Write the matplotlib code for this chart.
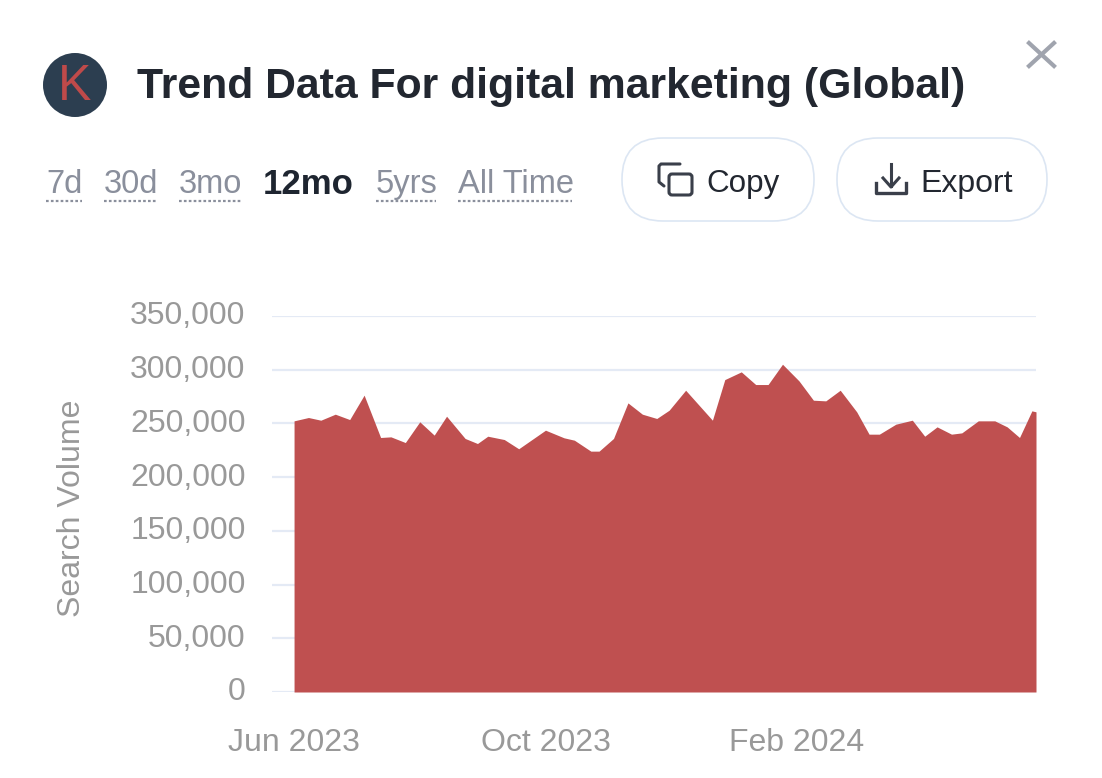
import matplotlib
matplotlib.use("Agg")
import matplotlib.pyplot as plt
from matplotlib.patches import Circle, FancyBboxPatch
from matplotlib.transforms import ScaledTranslation

plt.rcParams['font.family'] = ['Liberation Sans', 'DejaVu Sans']

days = [0,7,13,20,27,34,42,47,54,61,68,74,83,89,94,102,109,122,131,136,144,148,155,162,169,176,
        182,190,203,209,217,224,230,237,245,252,258,265,273,279,284,292,300,306,312,319,324,332,340,346,352,358,360]
volume = [252400,255500,253000,258600,253600,276300,236900,237500,232200,251500,239100,256700,236000,231300,
          238100,235000,226400,243700,236600,234400,224200,224200,236000,269100,258600,254600,
          262300,280900,253000,290800,298000,286200,286200,305100,289600,271600,271000,280900,260800,240000,
          240000,249300,253000,238100,246800,240000,241200,252400,252400,246800,236900,261700,260800]
y_ticks = [0,50000,100000,150000,200000,250000,300000,350000]
x_tick_days = [0,122,244]
x_tick_labels = ['Jun 2023','Oct 2023','Feb 2024']
ranges = ['7d','30d','3mo','12mo','5yrs','All Time']
title = 'Trend Data For digital marketing (Global)'

W,H = 1102,778
fig = plt.figure(figsize=(W/100,H/100),dpi=100,facecolor='white')

# chart axes: pixel box x 272..1036, y 316..692
ax = fig.add_axes([272/W,1-692/H,(1036-272)/W,(692-316)/H])
ax.set_xlim(-10.7,360)
ax.set_ylim(0,350000)
ax.fill_between(days,volume,0,color='#BF5050',lw=0,zorder=3)
ax.set_yticks(y_ticks)
ax.set_yticklabels([f'{v:,}' for v in y_ticks],fontsize=23,color='#999999')
ax.set_xticks(x_tick_days)
ax.set_xticklabels(x_tick_labels,fontsize=23,color='#999999')
ax.tick_params(axis='both',length=0)
ax.tick_params(axis='y',pad=19)
ax.tick_params(axis='x',pad=26)
ax.grid(axis='y',color='#E4EAF5',lw=1.6,zorder=1)
ax.set_axisbelow(True)
for s in ax.spines.values():
    s.set_visible(False)
ax.patch.set_alpha(0)
shift = ScaledTranslation(0,3/100,fig.dpi_scale_trans)
for lab in ax.get_yticklabels():
    lab.set_transform(lab.get_transform()+shift)
fig.text(72/W,1-508/H,'Search Volume',rotation=90,fontsize=23,color='#999999',ha='center',va='center')

# interface elements, in pixel coordinates
ui = fig.add_axes([0,0,1,1],zorder=-1)
ui.set_xlim(0,W); ui.set_ylim(H,0); ui.axis('off')
ui.add_patch(Circle((75,85),32,color='#2C3E50',lw=0))
ui.text(75,87,'K',fontsize=36,color='#BF4A4A',ha='center',va='center',fontweight='normal')
ui.text(137,87,title,fontsize=30.8,fontweight='bold',color='#222730',ha='left',va='center')

xs = [46,104,179,263,376,458]
xe = [82,157,241,353,436,572]
for t,a,b in zip(ranges,xs,xe):
    active = t=='12mo'
    ui.text(a,184,t,fontsize=25 if active else 23.5,color='#1E2530' if active else '#8A8F9C',
            ha='left',va='center',fontweight='bold' if active else 'normal')
    if not active:
        ui.plot([a,b],[201,201],color='#8A8F9C',lw=1.6,ls=(0,(1.2,1.0)))

ui.add_patch(FancyBboxPatch((622,138),192,83,boxstyle='round,pad=0,rounding_size=41',
                            fc='white',ec='#DCE6F3',lw=1.2))
ui.add_patch(FancyBboxPatch((837,138),210,83,boxstyle='round,pad=0,rounding_size=41',
                            fc='white',ec='#DCE6F3',lw=1.2))
ui.text(706,184,'Copy',fontsize=22.6,color='#222730',ha='left',va='center')
ui.text(920,184,'Export',fontsize=23,color='#222730',ha='left',va='center')

# copy icon
ui.add_patch(FancyBboxPatch((669,174),23,21,boxstyle='round,pad=0,rounding_size=3',fc='none',ec='#3A3F4A',lw=2.2))
ui.plot([680,661,659,659,664],[164,164,166,182,186],color='#3A3F4A',lw=2.2,solid_capstyle='round')
# export icon
ui.plot([891,891],[164,186],color='#3A3F4A',lw=2.2)
ui.plot([883,891,899],[178,187,178],color='#3A3F4A',lw=2.2)
ui.plot([876,876,906,906],[183,193,193,183],color='#3A3F4A',lw=2.4,solid_joinstyle='round')
# close icon
ui.plot([1029,1054],[43,66],color='#A0A4AE',lw=3)
ui.plot([1054,1029],[43,66],color='#A0A4AE',lw=3)

fig.savefig('out.png',dpi=100,facecolor='white')
